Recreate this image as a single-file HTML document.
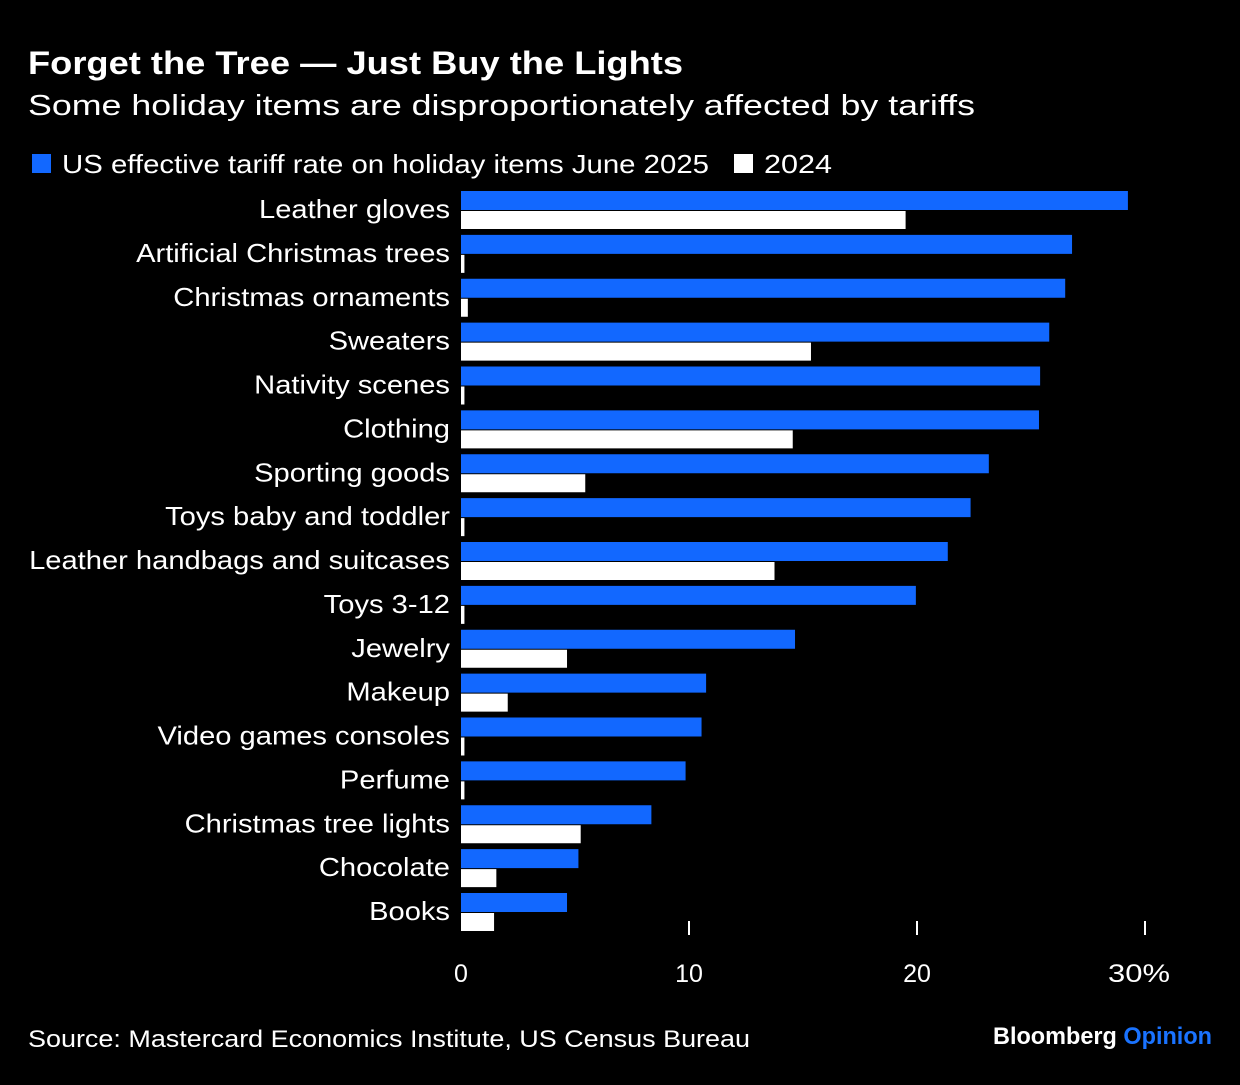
<!DOCTYPE html>
<html><head><meta charset="utf-8"><style>
body{margin:0;background:#000;width:1240px;height:1080px;overflow:hidden;font-family:"Liberation Sans",sans-serif;color:#fff}
</style></head><body>
<svg width="1240" height="1080" xmlns="http://www.w3.org/2000/svg" style="font-family:'Liberation Sans',sans-serif">
<rect width="1240" height="1080" fill="#000"/>
<text x="28" y="74" font-size="32" font-weight="bold" fill="#fff" textLength="655" lengthAdjust="spacingAndGlyphs">Forget the Tree — Just Buy the Lights</text>
<text x="28" y="115" font-size="29" fill="#fff" textLength="947" lengthAdjust="spacingAndGlyphs">Some holiday items are disproportionately affected by tariffs</text>
<rect x="32" y="154" width="19" height="19" fill="#1268ff"/>
<text x="62" y="173" font-size="26" fill="#fff" textLength="647" lengthAdjust="spacingAndGlyphs">US effective tariff rate on holiday items June 2025</text>
<rect x="734" y="154" width="19" height="19" fill="#fff"/>
<text x="764" y="173" font-size="26" fill="#fff" textLength="68" lengthAdjust="spacingAndGlyphs">2024</text>
<g id="bars"></g>
<g id="axis"></g>
<text x="28" y="1047" font-size="24" fill="#fff" textLength="722" lengthAdjust="spacingAndGlyphs">Source: Mastercard Economics Institute, US Census Bureau</text>
<text x="993" y="1044" font-size="24" font-weight="bold" fill="#fff" textLength="219" lengthAdjust="spacingAndGlyphs">Bloomberg <tspan fill="#1a73ff">Opinion</tspan></text>
</svg>
<script>
const categories=["Leather gloves","Artificial Christmas trees","Christmas ornaments","Sweaters","Nativity scenes","Clothing","Sporting goods","Toys baby and toddler","Leather handbags and suitcases","Toys 3-12","Jewelry","Makeup","Video games consoles","Perfume","Christmas tree lights","Chocolate","Books"];
const values2025=[29.25,26.8,26.5,25.8,25.4,25.35,23.15,22.35,21.35,19.95,14.65,10.75,10.55,9.85,8.35,5.15,4.65];
const values2024=[19.5,0.15,0.3,15.35,0.15,14.55,5.45,0.15,13.75,0.15,4.65,2.05,0.15,0.15,5.25,1.55,1.45];
const tickValues=[0,10,20,30];
const tickLabels=["0","10","20","30%"];
const NS="http://www.w3.org/2000/svg";
const x0=461,pxPer=22.8,rowTop=191,pitch=43.875;
const xs=v=>x0+v*pxPer;
const ys=i=>rowTop+i*pitch;
const bars=document.getElementById('bars'),axis=document.getElementById('axis');
function mk(tag,attrs,parent){const e=document.createElementNS(NS,tag);for(const k in attrs)e.setAttribute(k,attrs[k]);parent.appendChild(e);return e;}
categories.forEach((c,i)=>{
  const y=ys(i);
  const b=mk('rect',{x:x0,y:y,width:xs(values2025[i])-x0,height:19,fill:'#1268ff'},bars);
  
  
  const w=mk('rect',{x:x0,y:y+20,width:Math.max(2,xs(values2024[i])-x0),height:18,fill:'#fff'},bars);
  
  
  const t=mk('text',{x:450,y:y+27,'font-size':26,fill:'#fff','text-anchor':'end'},bars);
  t.textContent=c;
  
  
  const len=t.getComputedTextLength();
  t.setAttribute('textLength',(len*1.12).toFixed(1));
  t.setAttribute('lengthAdjust','spacingAndGlyphs');
});
tickValues.forEach((v,i)=>{
  if(v>0){const l=mk('line',{x1:xs(v),x2:xs(v),y1:921,y2:935,stroke:'#fff','stroke-width':2},axis);
  
  }
  const t=mk('text',{x:xs(v),y:982,'font-size':25,fill:'#fff','text-anchor':i===tickValues.length-1?'start':'middle'},axis);
  t.textContent=tickLabels[i];
  if(i===tickValues.length-1){t.setAttribute('x',xs(v)-37);t.setAttribute('textLength',62);t.setAttribute('lengthAdjust','spacingAndGlyphs');}
  
  
});
</script>
</body></html>
